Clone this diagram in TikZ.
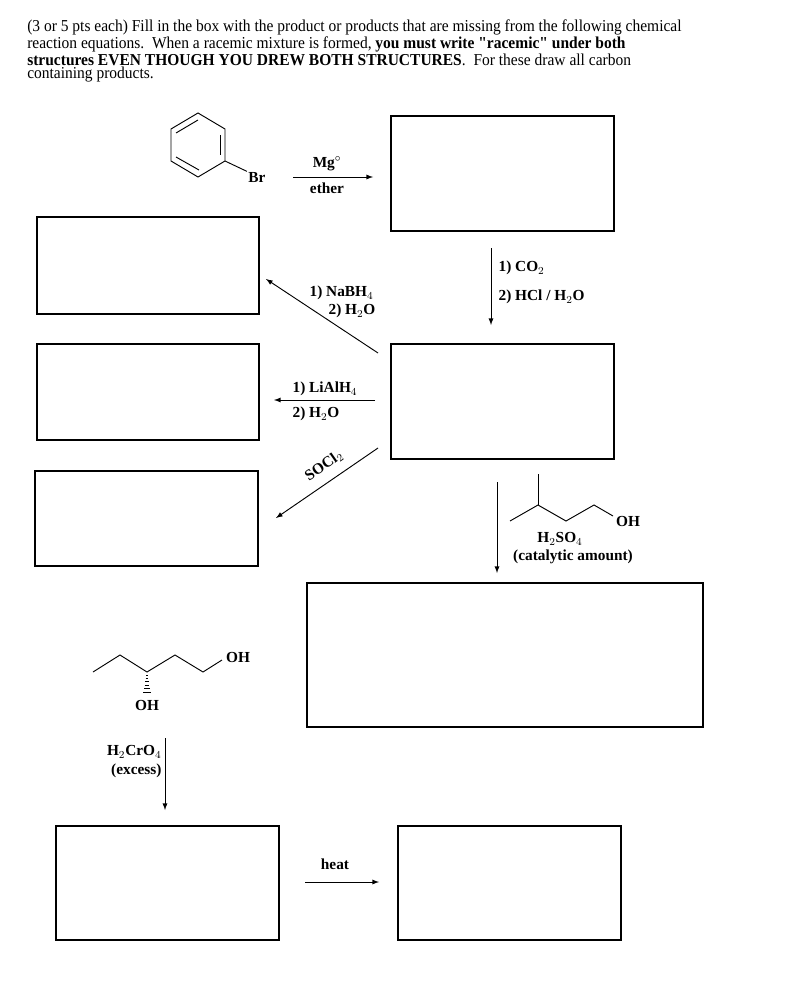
\documentclass[tikz,border=0pt]{standalone}
\usepackage{fontspec}
\setmainfont{Liberation Serif}
\usetikzlibrary{calc}
\begin{document}
\begin{tikzpicture}[x=0.75pt,y=-0.75pt,
  box/.style={draw,line width=0.8pt},
  rx/.style={-latex,line width=0.7pt},
  lab/.style={font=\fontsize{11.5}{12}\selectfont\bfseries,inner sep=1pt},
  bond/.style={line width=0.7pt}]
\useasboundingbox (0,0) rectangle (794,984);
\node[anchor=north west,inner sep=0,align=left,font=\fontsize{12.5}{9.8}\selectfont] (title) at (27,20)
{\scalebox{0.93}[1]{(3 or 5 pts each) Fill in the box with the product or products that are missing from the following chemical}\\
\scalebox{0.93}[1]{reaction equations.\ \ When a racemic mixture is formed, \textbf{you must write \textquotedbl racemic\textquotedbl\ under both}}\\
\scalebox{0.93}[1]{\textbf{structures EVEN THOUGH YOU DREW BOTH STRUCTURES}.\ \ For these draw all carbon}\\
\scalebox{0.93}[1]{containing products.}};
% boxes
\draw[box] (391,116) rectangle (614,231);
\draw[box] (37,217) rectangle (259,314);
\draw[box] (37,344) rectangle (259,440);
\draw[box] (35,471) rectangle (258,566);
\draw[box] (391,344) rectangle (614,459);
\draw[box] (307,583) rectangle (703,727);
\draw[box] (56,826) rectangle (279,940);
\draw[box] (398,826) rectangle (621,940);
% benzene
\coordinate (b1) at (198,113); \coordinate (b2) at (225,129); \coordinate (b3) at (225,161);
\coordinate (b4) at (198,177); \coordinate (b5) at (171,161); \coordinate (b6) at (171,129);
\draw[bond] (b1)--(b2)--(b3)--(b4)--(b5)--(b6)--cycle;
\draw[bond] ($(b2)!0.18!(b3)+(-5,0)$) -- ($(b3)!0.18!(b2)+(-5,0)$);
\draw[bond] (198,120) -- (176,133) (199,170) -- (176,157);
\node[lab] (br) at (257,178) {Br};
\draw[bond] (b3) -- (br.north west);
% reactions
\coordinate (m1) at (293,177); \coordinate (m2) at (373,177);
\draw[rx] (m1) -- (m2);
\node[lab] (mg) at (327,164) {Mg$^{\circ}$};
\node[lab] (eth) at (327,188) {ether};
\coordinate (c1) at (491,248); \coordinate (c2) at (491,325);
\draw[rx] (c1) -- (c2);
\node[lab,anchor=west] (co2) at (497,268) {1) CO$_2$};
\node[lab,anchor=west] (hcl) at (497,297) {2) HCl / H$_2$O};
\coordinate (n1) at (378,353); \coordinate (n2) at (266,279);
\draw[rx] (n1) -- (n2);
\node[lab,anchor=west] (nab) at (308,293) {1) NaBH$_4$};
\node[lab,anchor=west] (nah) at (327,311) {2) H$_2$O};
\coordinate (l1) at (375,400); \coordinate (l2) at (274,400);
\draw[rx] (l1) -- (l2);
\node[lab,anchor=west] (lia) at (291,389) {1) LiAlH$_4$};
\node[lab,anchor=west] (lih) at (291,414) {2) H$_2$O};
\coordinate (s1) at (378,448); \coordinate (s2) at (276,518);
\draw[rx] (s1) -- (s2);
\node[lab,rotate=35,inner sep=0pt] (soc) at (324,466) {SOCl$_2$};
\coordinate (d1) at (497,482); \coordinate (d2) at (497,573);
\draw[rx] (d1) -- (d2);
% 3-methylbutanol
\draw[bond] (510,521) -- (538,505) -- (566,521) -- (594,505) -- (613,516);
\draw[bond] (538,505) -- (538,474);
\node[lab] (oh1) at (628,521) {OH};
\node[lab] (h2so4) at (560,539) {H$_2$SO$_4$};
\node[lab] (cat) at (573,557) {(catalytic amount)};
% diol
\draw[bond] (93,672) -- (120,655) -- (147,672) -- (175,655) -- (203,672) -- (222,660);
\node[lab] (oh2) at (238,657) {OH};
\foreach \i in {0,...,5} {
  \pgfmathsetmacro{\yy}{675+\i*3.4}
  \pgfmathsetmacro{\ww}{0.8+\i*0.55}
  \draw[line width=0.6pt] (147-\ww,\yy) -- (147+\ww,\yy);
}
\node[lab] (oh3) at (147,705) {OH};
\coordinate (h1) at (165,738); \coordinate (h2) at (165,810);
\draw[rx] (h1) -- (h2);
\node[lab,anchor=east] (cr) at (163,752) {H$_2$CrO$_4$};
\node[lab,anchor=east] (exc) at (163,771) {(excess)};
\coordinate (t1) at (305,882); \coordinate (t2) at (379,882);
\draw[rx] (t1) -- (t2);
\node[lab] (heat) at (335,864) {heat};
\end{tikzpicture}
\end{document}
